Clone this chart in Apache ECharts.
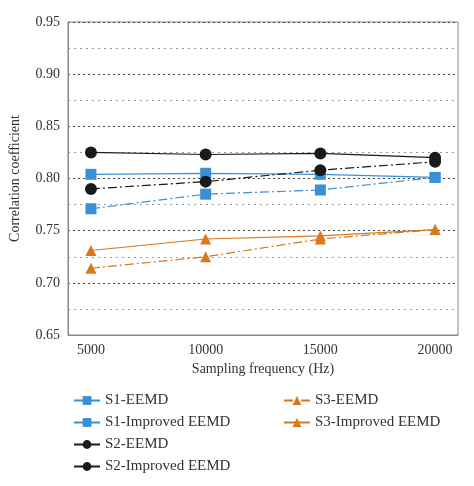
<!DOCTYPE html>
<html><head><meta charset="utf-8">
<script src="https://cdn.jsdelivr.net/npm/echarts@6/dist/echarts.min.js"></script>
</head><body style="margin:0">
<div id="box" style="width:474px;height:486px"></div>
<script>
var freqs = [5000, 10000, 15000, 20000];
var s1Eemd = [0.771, 0.785, 0.789, 0.801];
var s1Imp = [0.804, 0.805, 0.804, 0.801];
var s2Eemd = [0.790, 0.797, 0.808, 0.816];
var s2Imp = [0.825, 0.823, 0.824, 0.820];
var s3Eemd = [0.714, 0.725, 0.742, 0.751];
var s3Imp = [0.731, 0.742, 0.745, 0.751];

var blue = '#3b8fd6', black = '#1a1a1a', orange = '#d7791c';
var dashDot = [9, 3, 2, 3];
function mk(name, vals, color, dashed, symbol) {
    return {
        name: name, type: 'line', symbol: symbol,
        symbolSize: symbol === 'circle' ? 12 : 11,
        data: freqs.map(function (f, i) { return [f, vals[i]]; }),
        lineStyle: { color: color, width: 1.2, type: dashed ? dashDot : 'solid' },
        itemStyle: { color: color }
    };
}
var font = 'Liberation Serif';
var myCharts = echarts.init(document.getElementById('box'));
var option = {
    textStyle: { fontFamily: font },
    grid: { left: 68, right: 16, top: 22, bottom: 151, show: true, borderColor: '#888', borderWidth: 1 },
    xAxis: {
        type: 'value', min: 4000, max: 21000, interval: 1000,
        name: 'Sampling frequency (Hz)', nameLocation: 'middle', nameGap: 24,
        nameTextStyle: { fontSize: 14, color: '#333', fontFamily: font },
        axisLine: { lineStyle: { color: '#888' } }, axisTick: { show: false },
        splitLine: { show: false },
        axisLabel: { fontSize: 14, color: '#333', margin: 8,
            formatter: function (v) { return v % 5000 === 0 ? v : ''; } }
    },
    yAxis: {
        type: 'value', min: 0.65, max: 0.95, interval: 0.05,
        name: 'Correlation coefficient', nameLocation: 'middle', nameGap: 46,
        nameTextStyle: { fontSize: 14, color: '#333', fontFamily: font },
        axisLine: { show: true, lineStyle: { color: '#888' } }, axisTick: { show: false },
        axisLabel: { fontSize: 14, color: '#333', formatter: function (v) { return v.toFixed(2); } },
        splitLine: { lineStyle: { type: [2, 3], color: '#444', width: 1.2 } },
        minorTick: { show: false, splitNumber: 2 },
        minorSplitLine: { show: true, lineStyle: { type: [2, 4], color: '#999', width: 1 } }
    },
    legend: [
        { left: 68, top: 388, orient: 'vertical', itemGap: 7, itemWidth: 26, itemHeight: 11,
          textStyle: { fontSize: 15, color: '#333', fontFamily: font },
          data: ['S1-EEMD', 'S1-Improved EEMD', 'S2-EEMD', 'S2-Improved EEMD'] },
        { left: 278, top: 388, orient: 'vertical', itemGap: 7, itemWidth: 26, itemHeight: 11,
          textStyle: { fontSize: 15, color: '#333', fontFamily: font },
          data: ['S3-EEMD', 'S3-Improved EEMD'] }
    ],
    series: [
        mk('S1-EEMD', s1Eemd, blue, true, 'rect'),
        mk('S1-Improved EEMD', s1Imp, blue, false, 'rect'),
        mk('S2-EEMD', s2Eemd, black, true, 'circle'),
        mk('S2-Improved EEMD', s2Imp, black, false, 'circle'),
        mk('S3-EEMD', s3Eemd, orange, true, 'triangle'),
        mk('S3-Improved EEMD', s3Imp, orange, false, 'triangle')
    ]
};
myCharts.setOption(option);
</script></body></html>
